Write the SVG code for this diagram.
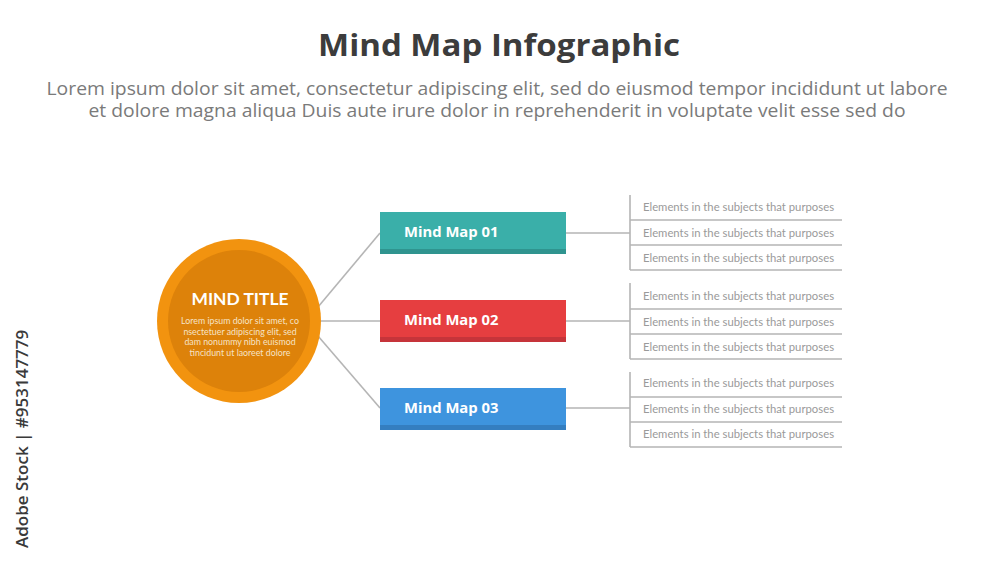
<svg xmlns="http://www.w3.org/2000/svg" width="1000" height="563" viewBox="0 0 1000 563">
<style>
.title{font-family:"Open Sans","Liberation Sans",sans-serif;font-weight:700;font-size:31px;fill:#3c3c3c}
.sub{font-family:"Open Sans","Liberation Sans",sans-serif;font-size:17.5px;fill:#7a7a7a}
.box{font-family:"Open Sans","Liberation Sans",sans-serif;font-weight:700;font-size:14.8px;fill:#ffffff}
.item{font-family:Lato,"Liberation Sans",sans-serif;font-size:11.3px;fill:#9a9a9a}
.ct{font-family:Lato,"Liberation Sans",sans-serif;font-weight:700;font-size:17.4px;fill:#ffffff}
.cs{font-family:Lato,"Liberation Sans",sans-serif;font-size:8.8px;fill:#f6e3c6}
.ln{stroke:#b5b5b5;stroke-width:1.6;fill:none}
.wm{font-family:"Open Sans","Liberation Sans",sans-serif;font-weight:600;font-size:17px;fill:#3a3a3a}
</style>
<rect width="1000" height="563" fill="#ffffff"/>
<text class="title" x="499" y="56" text-anchor="middle" textLength="362" lengthAdjust="spacingAndGlyphs">Mind Map Infographic</text>
<text class="sub" x="497" y="95" text-anchor="middle" textLength="901" lengthAdjust="spacingAndGlyphs">Lorem ipsum dolor sit amet, consectetur adipiscing elit, sed do eiusmod tempor incididunt ut labore</text>
<text class="sub" x="497" y="117" text-anchor="middle" textLength="817" lengthAdjust="spacingAndGlyphs">et dolore magna aliqua Duis aute irure dolor in reprehenderit in voluptate velit esse sed do</text>
<g id="connectors">
<path class="ln" d="M318 307 L380 233"/>
<path class="ln" d="M321 321 L380 321"/>
<path class="ln" d="M318 336 L380 408"/>
<path class="ln" d="M566 233 L630 233 M630 195 L630 270 M630 220 L842 220 M630 245 L842 245 M630 270 L842 270"/>
<path class="ln" d="M566 321 L630 321 M630 283 L630 359 M630 309 L842 309 M630 334 L842 334 M630 359 L842 359"/>
<path class="ln" d="M566 408 L630 408 M630 372 L630 447 M630 397 L842 397 M630 422 L842 422 M630 447 L842 447"/>
</g>
<g id="center">
<circle cx="239" cy="321" r="82" fill="#f2930f"/>
<circle cx="239" cy="321" r="71" fill="#dd820a"/>
<text class="ct" x="240" y="305" text-anchor="middle">MIND TITLE</text>
<text class="cs" x="240" y="324" text-anchor="middle">Lorem ipsum dolor sit amet, co</text>
<text class="cs" x="240" y="335" text-anchor="middle">nsectetuer adipiscing elit, sed</text>
<text class="cs" x="240" y="345" text-anchor="middle">dam nonummy nibh euismod</text>
<text class="cs" x="240" y="356" text-anchor="middle">tincidunt ut laoreet dolore</text>
</g>
<g id="node1">
<rect x="380" y="212" width="186" height="42" fill="#3aafa9"/>
<rect x="380" y="249" width="186" height="5" fill="#2f948f"/>
<text class="box" x="404" y="237">Mind Map 01</text>
</g>
<g id="node2">
<rect x="380" y="300" width="186" height="42" fill="#e63e40"/>
<rect x="380" y="337" width="186" height="5" fill="#c6343a"/>
<text class="box" x="404" y="325">Mind Map 02</text>
</g>
<g id="node3">
<rect x="380" y="388" width="186" height="42" fill="#3e94de"/>
<rect x="380" y="425" width="186" height="5" fill="#347ec0"/>
<text class="box" x="404" y="413">Mind Map 03</text>
</g>
<g id="list1">
<text class="item" x="643" y="211">Elements in the subjects that purposes</text>
<text class="item" x="643" y="237">Elements in the subjects that purposes</text>
<text class="item" x="643" y="262">Elements in the subjects that purposes</text>
</g>
<g id="list2">
<text class="item" x="643" y="300">Elements in the subjects that purposes</text>
<text class="item" x="643" y="326">Elements in the subjects that purposes</text>
<text class="item" x="643" y="351">Elements in the subjects that purposes</text>
</g>
<g id="list3">
<text class="item" x="643" y="387">Elements in the subjects that purposes</text>
<text class="item" x="643" y="413">Elements in the subjects that purposes</text>
<text class="item" x="643" y="438">Elements in the subjects that purposes</text>
</g>
<text class="wm" transform="translate(28 548) rotate(-90)">Adobe Stock | #953147779</text>
</svg>
